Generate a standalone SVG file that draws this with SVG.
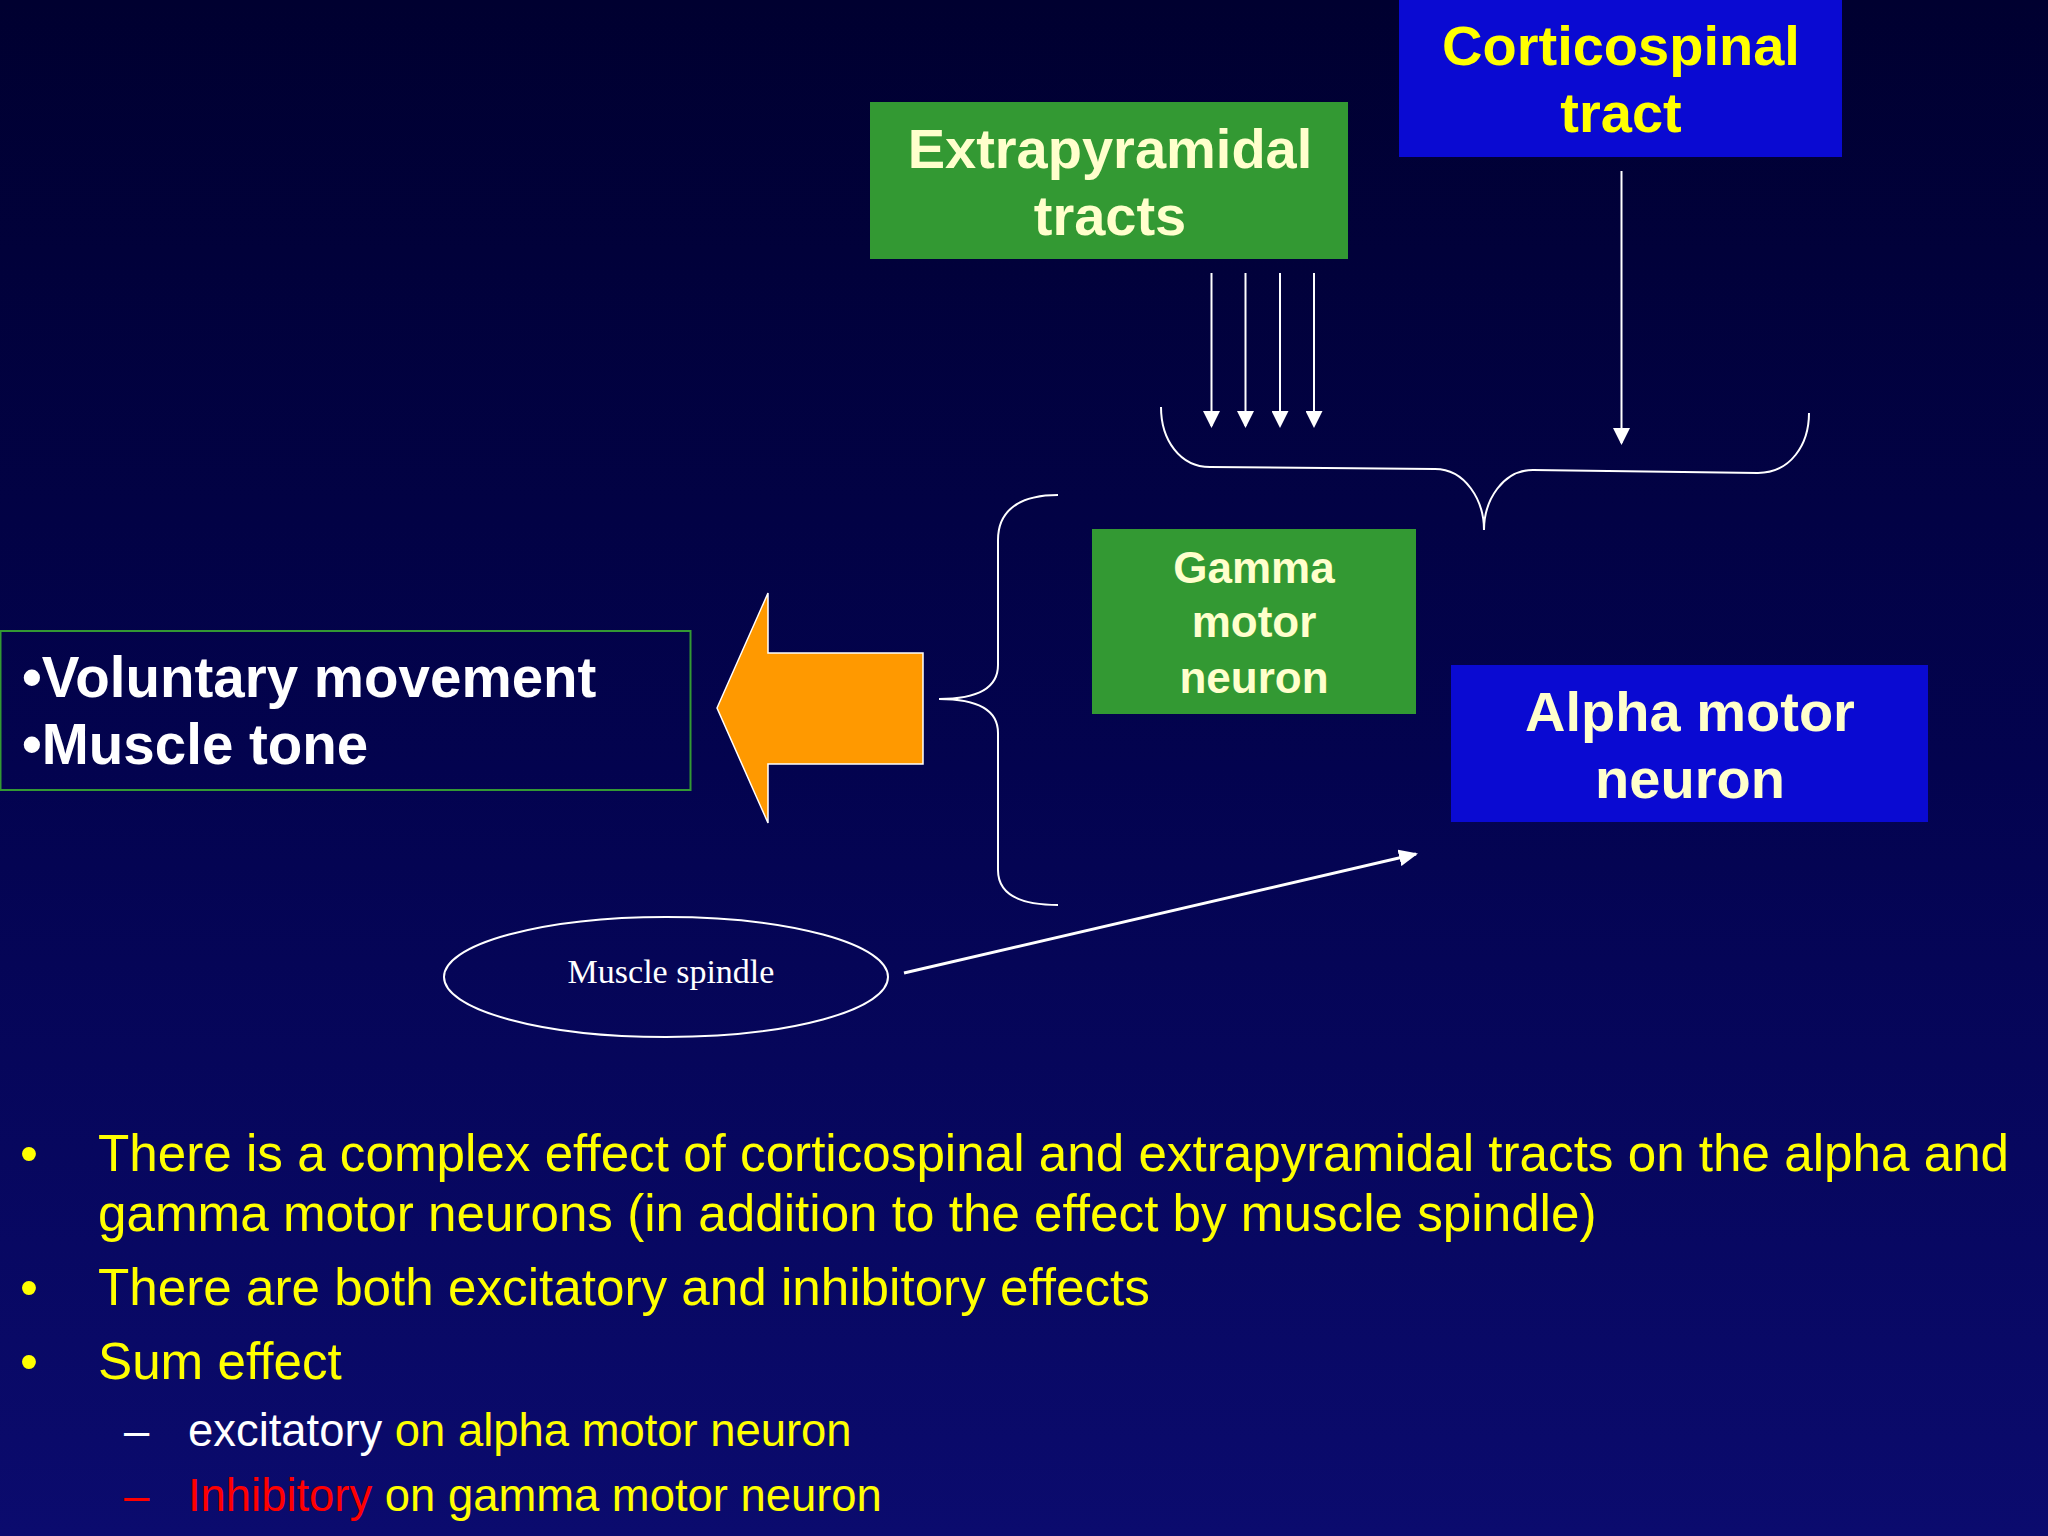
<svg xmlns="http://www.w3.org/2000/svg" width="2048" height="1536" viewBox="0 0 2048 1536">
  <defs>
    <linearGradient id="bg" x1="0" y1="0" x2="0" y2="1">
      <stop offset="0" stop-color="#000030"/>
      <stop offset="0.5" stop-color="#03034f"/>
      <stop offset="1" stop-color="#0b0b6e"/>
    </linearGradient>
    <marker id="head" viewBox="0 0 17 17" refX="15" refY="8.5" markerWidth="17" markerHeight="17" markerUnits="userSpaceOnUse" orient="auto">
      <path d="M0,0 L17,8.5 L0,17 Z" fill="#ffffff"/>
    </marker>
    <marker id="head2" viewBox="0 0 19 17" refX="17" refY="8.5" markerWidth="19" markerHeight="17" markerUnits="userSpaceOnUse" orient="auto">
      <path d="M0,0 L19,8.5 L0,17 Z" fill="#ffffff"/>
    </marker>
  </defs>
  <style>
    .box-text { font-family: "Liberation Sans", Arial, sans-serif; font-weight: bold; text-anchor: middle; }
    .lt { fill: #FFFFCC; }
    .yl { fill: #FFFF00; }
    .body { font-family: "Liberation Sans", Arial, sans-serif; font-size: 51.2px; fill: #FFFF00; }
    .sub { font-family: "Liberation Sans", Arial, sans-serif; font-size: 45.4px; fill: #FFFF00; }
    .conn { stroke: #ffffff; stroke-width: 2; fill: none; }
  </style>
  <rect x="0" y="0" width="2048" height="1536" fill="url(#bg)"/>

  <g id="corticospinal">
    <rect x="1399" y="0" width="443" height="157" fill="#0a0ad2"/>
    <text class="box-text yl" font-size="56" x="1621" y="65">Corticospinal</text>
    <text class="box-text yl" font-size="56" x="1621" y="132">tract</text>
  </g>

  <g id="extrapyramidal">
    <rect x="870" y="102" width="478" height="157" fill="#339933"/>
    <text class="box-text lt" font-size="56" x="1110" y="168">Extrapyramidal</text>
    <text class="box-text lt" font-size="56" x="1110" y="235">tracts</text>
  </g>

  <g id="gamma">
    <rect x="1092" y="529" width="324" height="185" fill="#339933"/>
    <text class="box-text lt" font-size="44" x="1254" y="583">Gamma</text>
    <text class="box-text lt" font-size="44" x="1254" y="637">motor</text>
    <text class="box-text lt" font-size="44" x="1254" y="693">neuron</text>
  </g>

  <g id="alpha">
    <rect x="1451" y="665" width="477" height="157" fill="#0a0ad2"/>
    <text class="box-text lt" font-size="56" x="1690" y="731">Alpha motor</text>
    <text class="box-text lt" font-size="56" x="1690" y="798">neuron</text>
  </g>

  <g id="outcome">
    <rect x="0.5" y="631" width="690" height="159" fill="none" stroke="#339933" stroke-width="2"/>
    <text font-family="'Liberation Sans', Arial, sans-serif" font-weight="bold" font-size="56.5" fill="#ffffff" x="22" y="697">•Voluntary movement</text>
    <text font-family="'Liberation Sans', Arial, sans-serif" font-weight="bold" font-size="56.5" fill="#ffffff" x="22" y="764">•Muscle tone</text>
  </g>

  <g id="big-arrow">
    <polygon points="717,708 768,593 768,653 923,653 923,764 768,764 768,823" fill="#FF9900" stroke="#ffffff" stroke-width="1.5"/>
  </g>

  <g id="spindle">
    <ellipse cx="666" cy="977" rx="222" ry="60" fill="none" stroke="#ffffff" stroke-width="2"/>
    <text font-family="'Liberation Serif', 'Times New Roman', serif" font-size="34" fill="#ffffff" text-anchor="middle" x="671" y="983">Muscle spindle</text>
  </g>

  <g id="connectors">
    <line class="conn" x1="1211.5" y1="273" x2="1211.5" y2="426" marker-end="url(#head)"/>
    <line class="conn" x1="1245.5" y1="273" x2="1245.5" y2="426" marker-end="url(#head)"/>
    <line class="conn" x1="1280" y1="273" x2="1280" y2="426" marker-end="url(#head)"/>
    <line class="conn" x1="1314" y1="273" x2="1314" y2="426" marker-end="url(#head)"/>
    <line class="conn" x1="1621.5" y1="171" x2="1621.5" y2="443" marker-end="url(#head)"/>
    <path class="conn" d="M1161,407 C1161,440 1180,467 1210,467 L1435,469 C1465,469 1484,500 1484,530 C1484,500 1503,470 1533,470 L1758,473 C1790,473 1809,445 1809,413"/>
    <path class="conn" d="M1058,495 C1020,495 998,510 998,540 L998,665 C998,690 975,699 939,699 C975,699 998,708 998,733 L998,870 C998,895 1020,905 1058,905"/>
    <line x1="904" y1="973" x2="1416" y2="854" stroke="#ffffff" stroke-width="3" marker-end="url(#head2)"/>
  </g>

  <g id="notes">
    <text class="body" x="20" y="1171">•</text>
    <text class="body" x="98" y="1171">There is a complex effect of corticospinal and extrapyramidal tracts on the alpha and</text>
    <text class="body" x="98" y="1231">gamma motor neurons (in addition to the effect by muscle spindle)</text>
    <text class="body" x="20" y="1305">•</text>
    <text class="body" x="98" y="1305">There are both excitatory and inhibitory effects</text>
    <text class="body" x="20" y="1379">•</text>
    <text class="body" x="98" y="1379">Sum effect</text>
    <text class="sub" x="124" y="1446" style="fill:#ffffff">–</text>
    <text class="sub" x="188" y="1446"><tspan style="fill:#ffffff">excitatory</tspan> on alpha motor neuron</text>
    <text class="sub" x="124" y="1511" style="fill:#ff0000">–</text>
    <text class="sub" x="188" y="1511"><tspan style="fill:#ff0000">Inhibitory</tspan> on gamma motor neuron</text>
  </g>
</svg>
